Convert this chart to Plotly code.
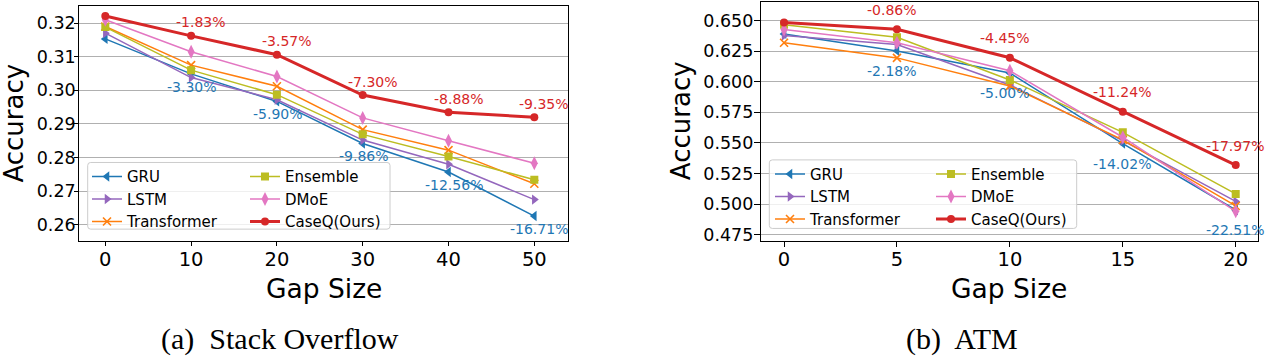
import plotly.graph_objects as go

W, H = 1268, 360

# ---------------- data ----------------
models = ["GRU", "LSTM", "Transformer", "Ensemble", "DMoE", "CaseQ(Ours)"]
colors = ["#1f77b4", "#9467bd", "#ff7f0e", "#bcbd22", "#e377c2", "#d62728"]
symbols = ["triangle-left", "triangle-right", "x-thin", "square", "diamond-tall", "circle"]

gap_so = [0, 10, 20, 30, 40, 50]
acc_so = {
    "GRU":         [0.3153, 0.3049, 0.2967, 0.2842, 0.2757, 0.2626],
    "LSTM":        [0.3170, 0.3038, 0.2972, 0.2852, 0.2780, 0.2675],
    "Transformer": [0.3190, 0.3075, 0.3012, 0.2883, 0.2822, 0.2722],
    "Ensemble":    [0.3188, 0.3060, 0.2987, 0.2869, 0.2803, 0.2734],
    "DMoE":        [0.3210, 0.3115, 0.3041, 0.2918, 0.2850, 0.2783],
    "CaseQ(Ours)": [0.3221, 0.3162, 0.3106, 0.2986, 0.2935, 0.2920],
}
lbl_so_caseq = ["-1.83%", "-3.57%", "-7.30%", "-8.88%", "-9.35%"]
lbl_so_gru = ["-3.30%", "-5.90%", "-9.86%", "-12.56%", "-16.71%"]
yt_so = [0.26, 0.27, 0.28, 0.29, 0.30, 0.31, 0.32]
yt_so_txt = ["0.26", "0.27", "0.28", "0.29", "0.30", "0.31", "0.32"]

gap_atm = [0, 5, 10, 15, 20]
acc_atm = {
    "GRU":         [0.6390, 0.6251, 0.6071, 0.5494, 0.4952],
    "LSTM":        [0.6377, 0.6304, 0.5973, 0.5519, 0.5022],
    "Transformer": [0.6318, 0.6194, 0.5965, 0.5525, 0.4985],
    "Ensemble":    [0.6465, 0.6363, 0.6014, 0.5586, 0.5083],
    "DMoE":        [0.6425, 0.6318, 0.6089, 0.5546, 0.4941],
    "CaseQ(Ours)": [0.6484, 0.6428, 0.6195, 0.5755, 0.5319],
}
lbl_atm_caseq = ["-0.86%", "-4.45%", "-11.24%", "-17.97%"]
lbl_atm_gru = ["-2.18%", "-5.00%", "-14.02%", "-22.51%"]
yt_atm = [0.475, 0.500, 0.525, 0.550, 0.575, 0.600, 0.625, 0.650]
yt_atm_txt = ["0.475", "0.500", "0.525", "0.550", "0.575", "0.600", "0.625", "0.650"]

FONT = "DejaVu Sans"
RED, BLUE = "#d62728", "#1f77b4"

def px(x):
    return x / W

def py(y):
    return 1 - y / H

fig = go.Figure()

def add_series(gaps, acc, xa, ya, leg1, leg2):
    for i, m in enumerate(models):
        c = colors[i]
        is_ours = m == "CaseQ(Ours)"
        marker = dict(symbol=symbols[i], size=8, color=c)
        if symbols[i] == "x-thin":
            marker = dict(symbol="x-thin", size=8, color=c, line=dict(width=1.6, color=c))
        elif symbols[i] == "diamond-tall":
            marker["size"] = 10
        elif symbols[i].startswith("triangle"):
            marker["size"] = 9
        fig.add_trace(go.Scatter(
            x=gaps, y=acc[m], mode="lines+markers", name=m,
            line=dict(color=c, width=3 if is_ours else 1.5),
            marker=marker, xaxis=xa, yaxis=ya,
            legend=leg1 if i < 3 else leg2,
        ))

add_series(gap_so, acc_so, "x", "y", "legend", "legend2")
add_series(gap_atm, acc_atm, "x2", "y2", "legend3", "legend4")

ann = []
def add_labels(gaps, vals, labels, xa, ya, color, xs, ys):
    for g, v, t in zip(gaps, vals, labels):
        ann.append(dict(x=g, y=v, xref=xa, yref=ya, text=t, showarrow=False,
                        xanchor="left", yanchor="middle", xshift=xs, yshift=ys,
                        font=dict(family=FONT, size=14, color=color)))

add_labels(gap_so[1:], acc_so["CaseQ(Ours)"][1:], lbl_so_caseq, "x", "y", RED, -17, 13.5)
add_labels(gap_so[1:], acc_so["GRU"][1:], lbl_so_gru, "x", "y", BLUE, -26, -13)
add_labels(gap_atm[1:], acc_atm["CaseQ(Ours)"][1:], lbl_atm_caseq, "x2", "y2", RED, -32, 19.5)
add_labels(gap_atm[1:], acc_atm["GRU"][1:], lbl_atm_gru, "x2", "y2", BLUE, -32, -20)

def text_ann(x, y, t, size, family=FONT, angle=0):
    ann.append(dict(x=px(x), y=py(y), xref="paper", yref="paper", text=t, showarrow=False,
                    xanchor="center", yanchor="middle", textangle=angle,
                    font=dict(family=family, size=size, color="black")))

text_ann(14, 125, "Accuracy", 26, angle=-90)
text_ann(681, 122.5, "Accuracy", 26, angle=-90)
text_ann(324, 292, "Gap Size", 26.5)
text_ann(1009, 292, "Gap Size", 26.5)
text_ann(280, 343, "(a)  Stack Overflow", 30, family="Liberation Serif")
text_ann(962, 343, "(b)  ATM", 30, family="Liberation Serif")

def legend_box(x0, y0, x1, y1, r=3):
    X0, X1 = px(x0), px(x1)
    Y0, Y1 = py(y0), py(y1)
    rx, ry = r / W, r / H
    path = (f"M{X0+rx},{Y0} L{X1-rx},{Y0} Q{X1},{Y0} {X1},{Y0-ry} "
            f"L{X1},{Y1+ry} Q{X1},{Y1} {X1-rx},{Y1} L{X0+rx},{Y1} "
            f"Q{X0},{Y1} {X0},{Y1+ry} L{X0},{Y0-ry} Q{X0},{Y0} {X0+rx},{Y0} Z")
    return dict(type="path", path=path, xref="paper", yref="paper", layer="above",
                fillcolor="rgba(255,255,255,0.8)", line=dict(color="#cccccc", width=1))

shapes = [legend_box(87.7, 164.3, 390, 231.7), legend_box(769.3, 161.7, 1076.7, 231)]

def leg(x, y):
    return dict(x=px(x), y=py(y), xanchor="left", yanchor="top", orientation="v",
                bgcolor="rgba(0,0,0,0)", borderwidth=0, itemwidth=30,
                font=dict(family=FONT, size=15, color="black"), tracegroupgap=0)

def xaxis(dom, rng, tv, tt, tl):
    return dict(domain=dom, range=rng, tickvals=tv, ticktext=tt, showgrid=False,
                showline=True, linecolor="black", linewidth=1.2, mirror=True,
                ticks="outside", ticklen=tl, tickcolor="black", zeroline=False,
                ticklabelstandoff=-4,
                tickfont=dict(family=FONT, size=19.5, color="black"))

def yaxis(dom, rng, tv, tt, anchor, tl, so):
    return dict(domain=dom, range=rng, tickvals=tv, ticktext=tt, showgrid=True,
                gridcolor="#b0b0b0", gridwidth=1, anchor=anchor,
                showline=True, linecolor="black", linewidth=1.2, mirror=True,
                ticks="outside", ticklen=tl, tickcolor="black", zeroline=False,
                ticklabelstandoff=so,
                tickfont=dict(family=FONT, size=17.5, color="black"))

fig.update_layout(
    width=W, height=H, margin=dict(l=0, r=0, t=0, b=0),
    paper_bgcolor="white", plot_bgcolor="white", showlegend=True,
    xaxis=xaxis([px(79.3), px(568.3)], [-3.03, 53.96], gap_so, [str(g) for g in gap_so], 4) | dict(anchor="y"),
    yaxis=yaxis([py(244), py(6)], [0.2551, 0.3251], yt_so, yt_so_txt, "x", 4, -5),
    xaxis2=xaxis([px(761), px(1258.3)], [-1.02, 21.0], gap_atm, [str(g) for g in gap_atm], 5) | dict(anchor="y2"),
    yaxis2=yaxis([py(243.3), py(1.7)], [0.4702, 0.6653], yt_atm, yt_atm_txt, "x2", 6, -3),
    legend=leg(87, 162),
    legend2=leg(245, 162),
    legend3=leg(770, 159.5),
    legend4=leg(931, 159.5),
    annotations=ann, shapes=shapes,
)

fig.write_html("out.html", config={"displayModeBar": False},
               post_script="document.body.style.margin='0px';document.body.style.overflow='hidden';")
